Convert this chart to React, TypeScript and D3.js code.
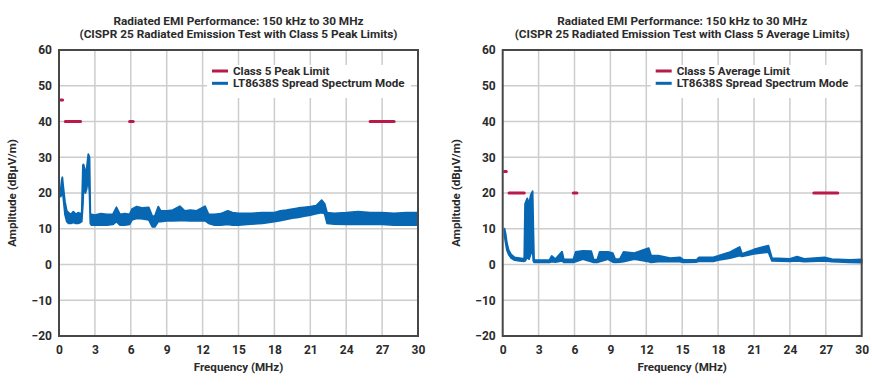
import React, { useEffect, useRef } from "react";
import * as d3 from "d3";

const xTicks = [0, 3, 6, 9, 12, 15, 18, 21, 24, 27, 30];
const yTicks = [-20, -10, 0, 10, 20, 30, 40, 50, 60];

const titleLine1 = "Radiated EMI Performance: 150 kHz to 30 MHz";
const peakTitle2 = "(CISPR 25 Radiated Emission Test with Class 5 Peak Limits)";
const avgTitle2 = "(CISPR 25 Radiated Emission Test with Class 5 Average Limits)";
const peakLegend = ["Class 5 Peak Limit", "LT8638S Spread Spectrum Mode"];
const avgLegend = ["Class 5 Average Limit", "LT8638S Spread Spectrum Mode"];

// [start MHz, end MHz, level dBuV/m]
const peakLimits = [
  [0.15, 0.3, 46],
  [0.53, 1.8, 40],
  [5.9, 6.2, 40],
  [26, 28, 40],
];
const avgLimits = [
  [0.15, 0.3, 26],
  [0.53, 1.8, 20],
  [5.9, 6.2, 20],
  [26, 28, 20],
];

// measured trace envelope: [MHz, low, high]
const peakTrace = [
  [0.15, 19, 21], [0.22, 20, 23.5], [0.28, 21, 24.4], [0.35, 19, 22], [0.5, 14, 17.5],
  [0.65, 12, 15], [0.8, 11.5, 14.5], [1.0, 11.5, 14], [1.2, 11.8, 14.8], [1.4, 11.5, 14],
  [1.6, 11.5, 14.5], [1.8, 11.8, 14.2], [1.9, 12, 14.5], [2.0, 17, 27.8], [2.05, 22, 28],
  [2.2, 20, 26], [2.3, 21, 26.5], [2.45, 24, 30.9], [2.55, 20, 30], [2.62, 11.5, 14],
  [2.7, 11, 14], [3.0, 11, 13.8], [3.5, 11, 14.2], [4.0, 11, 14], [4.5, 11.2, 14],
  [4.8, 12, 16], [5.1, 11, 14], [5.5, 11, 14.2], [5.9, 11.2, 14], [6.1, 12.5, 15.5],
  [6.5, 12.9, 16.2], [7.0, 12.8, 15.8], [7.5, 12.5, 16], [7.8, 10.5, 13.5], [8.0, 10.5, 13.5],
  [8.3, 12, 16.2], [8.5, 12, 15], [9.0, 12.2, 15], [9.5, 12.2, 15.2], [10.1, 12.3, 16.3],
  [10.5, 12.3, 15], [11.0, 12.2, 15.2], [11.5, 12.2, 15], [12.2, 12.3, 16.3], [12.5, 11.5, 14],
  [13.0, 11, 14], [13.5, 11, 14.2], [14.1, 11.2, 15], [14.5, 11, 14.5], [15.0, 11, 14.3],
  [16.0, 11.3, 14.3], [17.0, 11.5, 14.5], [18.0, 12, 14.5], [18.5, 12.3, 15], [19.0, 12.6, 15.2],
  [19.5, 13, 15.5], [20.0, 13.2, 15.8], [20.5, 13.5, 16], [21.0, 13.8, 16.2], [21.5, 14.2, 16.5],
  [21.95, 14.5, 18], [22.2, 14.2, 17], [22.4, 11.5, 14.5], [23.0, 11.3, 14.3], [24.0, 11.2, 14.5],
  [25.0, 11.3, 14.8], [26.0, 11.2, 14.5], [27.0, 11.2, 14.5], [28.0, 11, 14.3], [29.0, 11, 14.5],
  [30.0, 11, 14.5],
];
const avgTrace = [
  [0.15, 8, 10], [0.25, 6, 8.5], [0.35, 4, 6], [0.5, 2.8, 4], [0.7, 1.8, 2.8],
  [1.0, 1.2, 2], [1.4, 1.0, 1.8], [1.8, 0.9, 1.6], [1.87, 1, 17], [2.05, 2, 18.5],
  [2.2, 1.5, 17], [2.35, 3, 19.5], [2.5, 4, 20.5], [2.56, 1, 10], [2.62, 0.6, 1.3],
  [3.0, 0.6, 1.2], [3.9, 0.6, 1.2], [4.1, 0.8, 2.4], [4.4, 0.7, 1.5], [4.96, 1, 3.6],
  [5.1, 0.6, 1.4], [5.9, 0.6, 1.4], [6.1, 0.8, 3.5], [6.7, 1.5, 3.8], [7.4, 0.8, 3.7],
  [7.6, 0.6, 1.4], [7.9, 0.6, 1.3], [8.1, 0.8, 3.5], [8.8, 1.5, 3.5], [9.2, 0.7, 3.2],
  [9.4, 0.6, 1.5], [9.8, 0.7, 1.6], [10.1, 0.8, 3.5], [11.0, 1.5, 3.2], [12.2, 0.8, 4.6],
  [12.4, 0.6, 2.5], [13.0, 0.8, 2.5], [14.0, 0.8, 1.8], [14.8, 0.8, 2], [15.1, 0.6, 1.3],
  [16.2, 0.7, 1.3], [16.4, 0.9, 2], [17.6, 0.9, 2], [18.0, 1.2, 2.4], [19.0, 1.8, 3.5],
  [19.8, 2.5, 4.9], [20.0, 2.3, 3], [21.0, 3, 4.2], [22.2, 3.5, 5.3], [22.5, 1, 1.8],
  [24.0, 0.9, 1.6], [24.6, 1, 2.2], [25.2, 0.8, 1.6], [26.9, 1, 2], [27.5, 0.8, 1.5],
  [29.0, 0.6, 1.3], [30.0, 0.5, 1.4],
];

const RED = "#b81a4a";
const BLUE = "#0867b3";
const TEXT = "#2b2b2b";
const FONT = "Roboto, 'Noto Sans', sans-serif";

function drawPanel(svg, left, title2, legend, limits, trace) {
  const top = 50, bottom = 336, width = 359;
  const x = d3.scaleLinear().domain([0, 30]).range([left, left + width]);
  const y = d3.scaleLinear().domain([-20, 60]).range([bottom, top]);
  const cx = left + width / 2;

  const g = svg.append("g").attr("font-family", FONT).attr("fill", TEXT);

  g.append("text").attr("x", cx).attr("y", 24.5).attr("text-anchor", "middle")
    .attr("font-size", 11.8).attr("font-weight", 700).text(titleLine1);
  g.append("text").attr("x", cx).attr("y", 37.5).attr("text-anchor", "middle")
    .attr("font-size", 11.8).attr("font-weight", 700).text(title2);

  // grid
  g.append("g").attr("stroke", "#cdcdcd").attr("stroke-width", 1.5)
    .selectAll("line").data(xTicks.slice(1, -1)).join("line")
    .attr("x1", d => x(d)).attr("x2", d => x(d)).attr("y1", top).attr("y2", bottom);
  g.append("g").attr("stroke", "#cdcdcd").attr("stroke-width", 1.5)
    .selectAll("line").data(yTicks.slice(1, -1)).join("line")
    .attr("x1", left).attr("x2", left + width).attr("y1", d => y(d)).attr("y2", d => y(d));

  // legend box
  const lx = left + 151;
  g.append("rect").attr("x", lx - 3).attr("y", 65).attr("width", 204).attr("height", 33).attr("fill", "#fff");
  [RED, BLUE].forEach((c, i) => {
    const ly = 71 + i * 12.3;
    g.append("line").attr("x1", lx + 2).attr("x2", lx + 18).attr("y1", ly).attr("y2", ly)
      .attr("stroke", c).attr("stroke-width", 3);
    g.append("text").attr("x", lx + 23).attr("y", ly).attr("dy", "0.36em")
      .attr("font-size", 11.6).attr("font-weight", 700).text(legend[i]);
  });

  // trace
  const area = d3.area().x(d => x(d[0])).y0(d => y(d[1])).y1(d => y(d[2]));
  g.append("path").datum(trace).attr("d", area).attr("fill", BLUE)
    .attr("stroke", BLUE).attr("stroke-width", 1.8).attr("stroke-linejoin", "round");

  // limits
  g.append("g").selectAll("line").data(limits).join("line")
    .attr("x1", d => x(d[0])).attr("x2", d => x(d[1]))
    .attr("y1", d => y(d[2])).attr("y2", d => y(d[2]))
    .attr("stroke", RED).attr("stroke-width", 3).attr("stroke-linecap", "round");

  // frame
  g.append("rect").attr("x", left).attr("y", top).attr("width", width).attr("height", bottom - top)
    .attr("fill", "none").attr("stroke", "#474747").attr("stroke-width", 2);

  // axes
  const ya = g.append("g").attr("transform", `translate(${left},0)`)
    .call(d3.axisLeft(y).tickValues(yTicks).tickSize(0).tickPadding(7));
  const xa = g.append("g").attr("transform", `translate(0,${bottom})`)
    .call(d3.axisBottom(x).tickValues(xTicks).tickSize(0).tickPadding(9));
  [ya, xa].forEach(a => {
    a.select(".domain").remove();
    a.selectAll("text").attr("font-family", FONT).attr("font-size", 12)
      .attr("font-weight", 700).attr("fill", TEXT);
  });

  g.append("text").attr("x", cx).attr("y", 367).attr("dy", "0.36em").attr("text-anchor", "middle")
    .attr("font-size", 11.6).attr("font-weight", 700).text("Frequency (MHz)");
  g.append("text").attr("transform", `translate(${left - 47},${(top + bottom) / 2}) rotate(-90)`)
    .attr("dy", "0.36em").attr("text-anchor", "middle")
    .attr("font-size", 11.6).attr("font-weight", 700).text("Amplitude (dBµV/m)");
}

const App = () => {
  const chart = useRef(null);

  useEffect(() => {
    const svg = d3.select(chart.current);
    svg.selectAll("*").remove();
    drawPanel(svg, 59, peakTitle2, peakLegend, peakLimits, peakTrace);
    drawPanel(svg, 502.7, avgTitle2, avgLegend, avgLimits, avgTrace);
  }, []);

  return (
    <div style={{ position: "absolute", left: 0, top: 0, background: "#fff" }}>
      <svg ref={chart} width={872} height={389} style={{ display: "block" }} />
    </div>
  );
};

export default App;
